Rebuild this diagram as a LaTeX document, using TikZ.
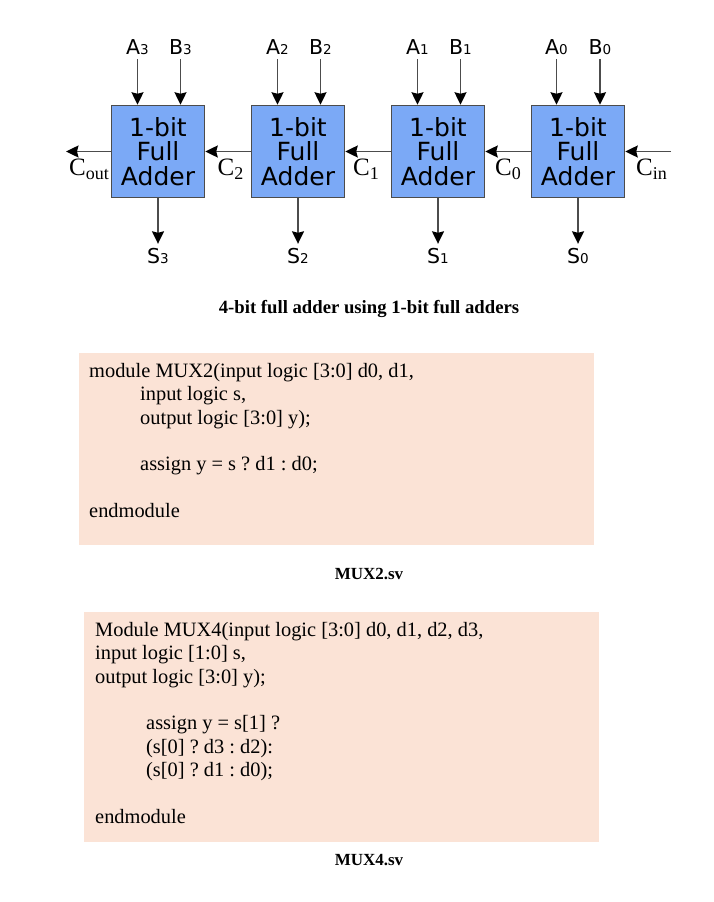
\documentclass[tikz,border=0pt]{standalone}
\usepackage{fontspec}
\setmainfont{Liberation Serif}
\newfontfamily\adderfont{DejaVu Sans}
\usetikzlibrary{arrows.meta}
\definecolor{adderblue}{HTML}{7BA9F6}
\definecolor{codepeach}{HTML}{FBE3D6}
\newcommand{\pinlabel}[2]{#1{\fontsize{13.5}{13.5}\selectfont #2}}
\newcommand{\carrylabel}[2]{C\raisebox{-4pt}{\fontsize{18}{18}\selectfont #2}}

\begin{document}
\begin{tikzpicture}[
        x=1pt, y=1pt,
        adder/.style={draw=black!70, line width=1.5pt, fill=adderblue, minimum width=93pt, minimum height=92pt,
        inner sep=0pt, align=center, font=\adderfont\fontsize{25}{24.5}\selectfont}, % Estilo para los bloques
        pin/.style={inner sep=0pt, minimum height=24pt, font=\adderfont\fontsize{20.5}{24}\selectfont}, % Etiquetas A, B, S
        carry/.style={inner sep=0pt, font=\fontsize{25}{25}\selectfont}, % Etiquetas de acarreo
        wire/.style={-{Stealth[length=12.5pt, width=12pt, inset=1.5pt, black]}, line width=1.5pt, black!70}, % Estilo para las conexiones
        codebox/.style={fill=codepeach, inner sep=0pt, minimum width=515pt, anchor=north west},
        codetext/.style={inner sep=0pt, anchor=north west, align=left, font=\frenchspacing\fontsize{20.4}{23.4}\selectfont},
        caption/.style={inner sep=0pt, font=\bfseries\fontsize{18.7}{20}\selectfont},
        filecaption/.style={inner sep=0pt, font=\bfseries\fontsize{17}{20}\selectfont}
    ]
        \useasboundingbox (0,0) rectangle (714,-902);

        % --- Sumadores de 1 bit ---
        \node[adder] (fa3) at (158,-151.5) {1-bit\\Full\\Adder};
        \node[adder] (fa2) at (298,-151.5) {1-bit\\Full\\Adder};
        \node[adder] (fa1) at (438,-151.5) {1-bit\\Full\\Adder};
        \node[adder] (fa0) at (578,-151.5) {1-bit\\Full\\Adder};

        % --- Entradas A y B ---
        \node[pin] (a3) at (137.5,-47) {\pinlabel{A}{3}};
        \node[pin] (b3) at (180.5,-47) {\pinlabel{B}{3}};
        \node[pin] (a2) at (277.5,-47) {\pinlabel{A}{2}};
        \node[pin] (b2) at (320.5,-47) {\pinlabel{B}{2}};
        \node[pin] (a1) at (417.5,-47) {\pinlabel{A}{1}};
        \node[pin] (b1) at (460.5,-47) {\pinlabel{B}{1}};
        \node[pin] (a0) at (556.5,-47) {\pinlabel{A}{0}};
        \node[pin] (b0) at (600,-47) {\pinlabel{B}{0}};
        \draw[wire] (a3) -- (a3 |- fa3.north);
        \draw[wire] (b3) -- (b3 |- fa3.north);
        \draw[wire] (a2) -- (a2 |- fa2.north);
        \draw[wire] (b2) -- (b2 |- fa2.north);
        \draw[wire] (a1) -- (a1 |- fa1.north);
        \draw[wire] (b1) -- (b1 |- fa1.north);
        \draw[wire] (a0) -- (a0 |- fa0.north);
        \draw[wire] (b0) -- (b0 |- fa0.north);

        % --- Salidas S ---
        \node[pin] (s3) at (158,-256) {\pinlabel{S}{3}};
        \node[pin] (s2) at (298,-256) {\pinlabel{S}{2}};
        \node[pin] (s1) at (438,-256) {\pinlabel{S}{1}};
        \node[pin] (s0) at (578,-256) {\pinlabel{S}{0}};
        \draw[wire] (fa3) -- (s3);
        \draw[wire] (fa2) -- (s2);
        \draw[wire] (fa1) -- (s1);
        \draw[wire] (fa0) -- (s0);

        % --- Acarreos ---
        \coordinate (cinend) at (671,-151.5);
        \coordinate (coutend) at (66,-151.5);
        \draw[wire] (cinend) -- (fa0);
        \draw[wire] (fa0) -- (fa1);
        \draw[wire] (fa1) -- (fa2);
        \draw[wire] (fa2) -- (fa3);
        \draw[wire] (fa3) -- (coutend);
        \node[carry] (cout) at (89,-169) {\carrylabel{C}{out}};
        \node[carry] (c2) at (230.5,-169) {\carrylabel{C}{2}};
        \node[carry] (c1) at (366,-169) {\carrylabel{C}{1}};
        \node[carry] (c0) at (508,-169) {\carrylabel{C}{0}};
        \node[carry] (cin) at (651.5,-169) {\carrylabel{C}{in}};

        % --- Titulo de la figura ---
        \node[caption] (addercap) at (369,-309) {4-bit full adder using 1-bit full adders};

        % --- MUX2 ---
        \node[codebox, minimum height=192pt] (muxtwo) at (79,-353) {};
        \node[codetext] (muxtwocode) at (89,-363) {module MUX2(input logic [3:0] d0, d1,\\
            \hspace*{51pt}input logic s,\\
            \hspace*{51pt}output logic [3:0] y);\\[23.4pt]
            \hspace*{51pt}assign y = s ? d1 : d0;\\[23.4pt]
            endmodule};
        \node[filecaption] (muxtwocap) at (369,-574) {MUX2.sv};

        % --- MUX4 ---
        \node[codebox, minimum height=230pt] (muxfour) at (84,-612) {};
        \node[codetext] (muxfourcode) at (95,-622) {Module MUX4(input logic [3:0] d0, d1, d2, d3,\\
            input logic [1:0] s,\\
            output logic [3:0] y);\\[23.4pt]
            \hspace*{51pt}assign y = s[1] ?\\
            \hspace*{51pt}(s[0] ? d3 : d2):\\
            \hspace*{51pt}(s[0] ? d1 : d0);\\[23.4pt]
            endmodule};
        \node[filecaption] (muxfourcap) at (369,-860) {MUX4.sv};
    \end{tikzpicture}
\end{document}
